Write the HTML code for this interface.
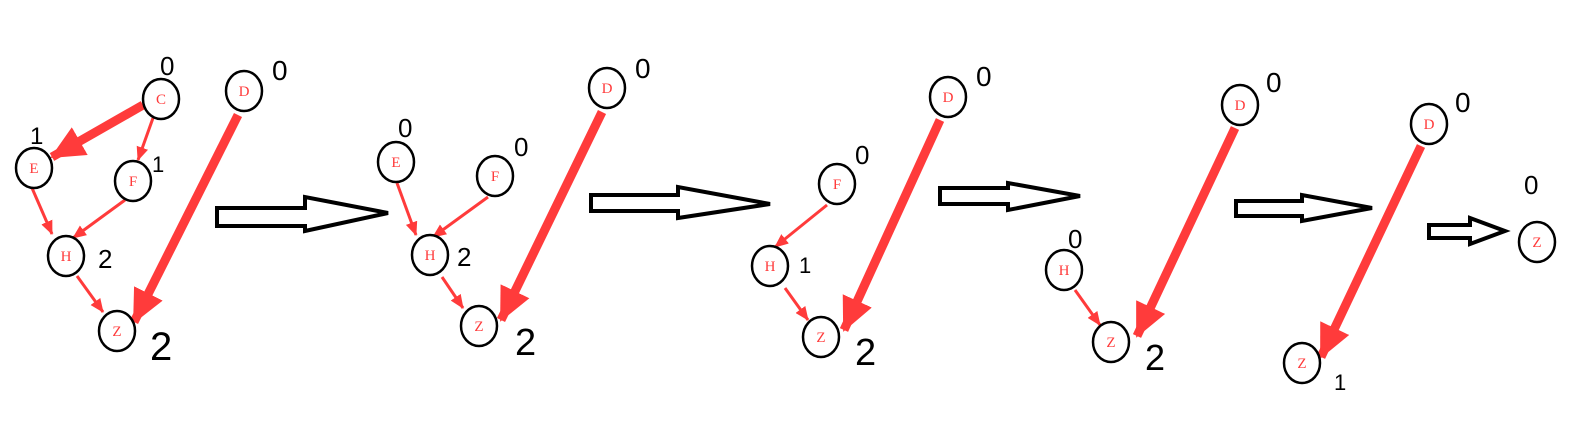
<!DOCTYPE html>
<html><head><meta charset="utf-8"><style>
html,body{margin:0;padding:0;background:#fff;}
svg{display:block;}
.n{fill:#fff;stroke:#000;stroke-width:2.5;}
.t{font-family:"Liberation Serif",serif;font-size:15px;fill:#ff3a3a;text-anchor:middle;}
.h{font-family:"Liberation Sans",sans-serif;fill:#000;}
.thin{stroke:#ff3b3b;stroke-width:3;marker-end:url(#ms);}
.thick{stroke:#ff3b3b;stroke-width:9;marker-end:url(#mb);}
.ar{fill:#fff;stroke:#000;stroke-width:4;stroke-linejoin:miter;}
</style></head><body>
<svg width="1589" height="436" viewBox="0 0 1589 436" xmlns="http://www.w3.org/2000/svg">
<defs>
<marker id="ms" markerUnits="userSpaceOnUse" markerWidth="14" markerHeight="12" refX="13" refY="6" orient="auto"><path d="M0,0 L14,6 L0,12 z" fill="#ff3b3b"/></marker>
<marker id="mb" markerUnits="userSpaceOnUse" markerWidth="34" markerHeight="32" refX="32" refY="16" orient="auto"><path d="M0,0 L34,16 L0,32 z" fill="#ff3b3b"/></marker>
</defs>
<!-- panel 1 -->
<line class="thick" x1="143" y1="105" x2="52" y2="157"/>
<line class="thin" x1="153" y1="118" x2="138" y2="160"/>
<line class="thin" x1="32" y1="188" x2="52" y2="234"/>
<line class="thin" x1="125" y1="200" x2="73" y2="238"/>
<line class="thin" x1="77" y1="276" x2="103" y2="312"/>
<line class="thick" x1="238" y1="115" x2="134" y2="322"/>
<ellipse class="n" cx="161" cy="99" rx="18" ry="20"/><text class="t" x="161" y="104">C</text>
<ellipse class="n" cx="244" cy="91" rx="18" ry="20"/><text class="t" x="244" y="96">D</text>
<ellipse class="n" cx="34" cy="168" rx="18" ry="20"/><text class="t" x="34" y="173">E</text>
<ellipse class="n" cx="133" cy="181" rx="18" ry="20"/><text class="t" x="133" y="186">F</text>
<ellipse class="n" cx="66" cy="256" rx="18" ry="20"/><text class="t" x="66" y="261">H</text>
<ellipse class="n" cx="117" cy="331" rx="18" ry="20"/><text class="t" x="117" y="336">Z</text>
<text class="h" x="160" y="75" font-size="26">0</text>
<text class="h" x="272" y="80" font-size="28">0</text>
<text class="h" x="30" y="144" font-size="24">1</text>
<text class="h" x="152" y="172" font-size="22">1</text>
<text class="h" x="98" y="268" font-size="26">2</text>
<text class="h" x="150" y="360" font-size="40">2</text>
<path class="ar" d="M217,208 L305,208 L305,197 L388,213 L305,231 L305,226 L217,226 Z"/>
<!-- panel 2 -->
<line class="thin" x1="397" y1="183" x2="416" y2="235"/>
<line class="thin" x1="488" y1="197" x2="433" y2="237"/>
<line class="thin" x1="442" y1="277" x2="463" y2="308"/>
<line class="thick" x1="602" y1="112" x2="501" y2="320"/>
<ellipse class="n" cx="396" cy="162" rx="18" ry="20"/><text class="t" x="396" y="167">E</text>
<ellipse class="n" cx="495" cy="176" rx="18" ry="20"/><text class="t" x="495" y="181">F</text>
<ellipse class="n" cx="430" cy="255" rx="18" ry="20"/><text class="t" x="430" y="260">H</text>
<ellipse class="n" cx="479" cy="326" rx="18" ry="20"/><text class="t" x="479" y="331">Z</text>
<ellipse class="n" cx="607" cy="88" rx="18" ry="20"/><text class="t" x="607" y="93">D</text>
<text class="h" x="398" y="137" font-size="26">0</text>
<text class="h" x="514" y="156" font-size="26">0</text>
<text class="h" x="457" y="266" font-size="26">2</text>
<text class="h" x="515" y="355" font-size="38">2</text>
<text class="h" x="635" y="78" font-size="28">0</text>
<path class="ar" d="M591,195 L678,195 L678,187 L770,204 L678,218 L678,211 L591,211 Z"/>
<!-- panel 3 -->
<line class="thin" x1="827" y1="205" x2="775" y2="247"/>
<line class="thin" x1="785" y1="288" x2="808" y2="320"/>
<line class="thick" x1="940" y1="120" x2="844" y2="330"/>
<ellipse class="n" cx="837" cy="184" rx="18" ry="20"/><text class="t" x="837" y="189">F</text>
<ellipse class="n" cx="770" cy="266" rx="18" ry="20"/><text class="t" x="770" y="271">H</text>
<ellipse class="n" cx="821" cy="337" rx="18" ry="20"/><text class="t" x="821" y="342">Z</text>
<ellipse class="n" cx="948" cy="97" rx="18" ry="20"/><text class="t" x="948" y="102">D</text>
<text class="h" x="855" y="164" font-size="26">0</text>
<text class="h" x="799" y="273" font-size="22">1</text>
<text class="h" x="855" y="365" font-size="38">2</text>
<text class="h" x="976" y="86" font-size="28">0</text>
<path class="ar" d="M940,188 L1008,188 L1008,183 L1080,196 L1008,210 L1008,204 L940,204 Z"/>
<!-- panel 4 -->
<line class="thin" x1="1075" y1="290" x2="1100" y2="325"/>
<line class="thick" x1="1235" y1="128" x2="1137" y2="336"/>
<ellipse class="n" cx="1064" cy="270" rx="18" ry="20"/><text class="t" x="1064" y="275">H</text>
<ellipse class="n" cx="1111" cy="342" rx="18" ry="20"/><text class="t" x="1111" y="347">Z</text>
<ellipse class="n" cx="1240" cy="105" rx="18" ry="20"/><text class="t" x="1240" y="110">D</text>
<text class="h" x="1068" y="248" font-size="26">0</text>
<text class="h" x="1145" y="370" font-size="36">2</text>
<text class="h" x="1266" y="92" font-size="28">0</text>
<path class="ar" d="M1236,201 L1302,201 L1302,195 L1372,208 L1302,221 L1302,216 L1236,216 Z"/>
<!-- panel 5 -->
<line class="thick" x1="1421" y1="146" x2="1321" y2="357"/>
<ellipse class="n" cx="1429" cy="124" rx="18" ry="20"/><text class="t" x="1429" y="129">D</text>
<ellipse class="n" cx="1302" cy="363" rx="18" ry="20"/><text class="t" x="1302" y="368">Z</text>
<text class="h" x="1455" y="112" font-size="28">0</text>
<text class="h" x="1334" y="390" font-size="22">1</text>
<path class="ar" d="M1429,225 L1470,225 L1470,218 L1505,231 L1470,244 L1470,238 L1429,238 Z"/>
<!-- panel 6 -->
<ellipse class="n" cx="1537" cy="242" rx="18" ry="20"/><text class="t" x="1537" y="247">Z</text>
<text class="h" x="1524" y="194" font-size="26">0</text>
</svg>
</body></html>
